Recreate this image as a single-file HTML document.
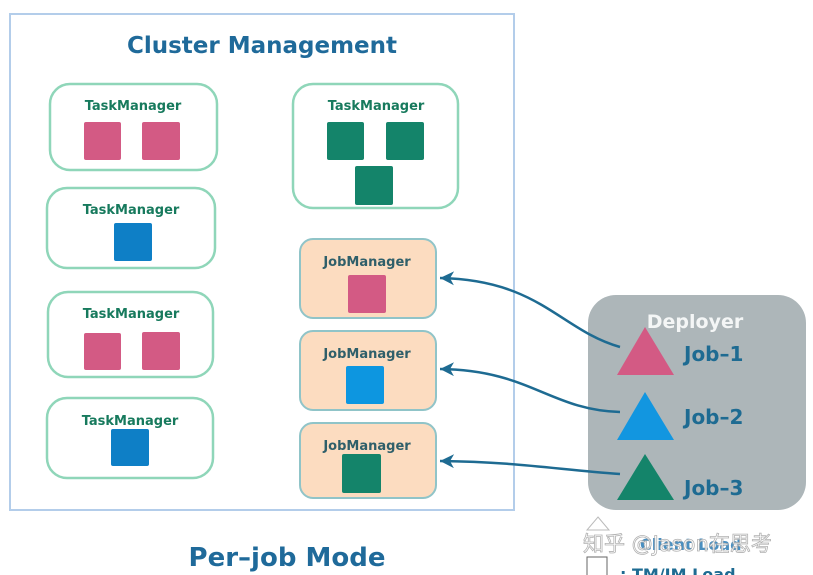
<!DOCTYPE html>
<html><head><meta charset="utf-8"><style>
html,body{margin:0;padding:0;background:#fff;width:813px;height:575px;overflow:hidden}
svg{display:block}
text{font-family:"DejaVu Sans","Liberation Sans","Noto Sans CJK SC",sans-serif}
</style></head><body>
<svg width="813" height="575" viewBox="0 0 813 575" xmlns="http://www.w3.org/2000/svg">
<defs>
<marker id="ah" markerWidth="16" markerHeight="16" refX="14" refY="7" orient="auto" markerUnits="userSpaceOnUse">
<path d="M0,0 L14,7 L0,14 L4,7 Z" fill="#1e6b92"/>
</marker>
</defs>
<rect x="10" y="14" width="504" height="496" fill="#fff" stroke="#b3cdea" stroke-width="2"/>
<text x="262" y="53" text-anchor="middle" font-size="23" font-weight="bold" fill="#1f6a9a">Cluster Management</text>

<g fill="#fff" stroke="#8fd6b9" stroke-width="2.5">
<rect x="50" y="84" width="167" height="86" rx="20"/>
<rect x="47" y="188" width="168" height="80" rx="20"/>
<rect x="48" y="292" width="165" height="85" rx="20"/>
<rect x="47" y="398" width="166" height="80" rx="20"/>
<rect x="293" y="84" width="165" height="124" rx="20"/>
</g>
<g fill="#fcdcc0" stroke="#90c4c8" stroke-width="2">
<rect x="300" y="239" width="136" height="79" rx="13"/>
<rect x="300" y="331" width="136" height="79" rx="13"/>
<rect x="300" y="423" width="136" height="75" rx="13"/>
</g>
<g font-size="13" font-weight="bold" fill="#177a5d" text-anchor="middle">
<text x="133" y="110">TaskManager</text>
<text x="131" y="214">TaskManager</text>
<text x="131" y="318">TaskManager</text>
<text x="130" y="425">TaskManager</text>
<text x="376" y="110">TaskManager</text>
</g>
<g fill="#d35a84">
<rect x="84" y="122" width="37" height="38" rx="2"/>
<rect x="142" y="122" width="38" height="38" rx="2"/>
<rect x="84" y="333" width="37" height="37" rx="2"/>
<rect x="142" y="332" width="38" height="38" rx="2"/>
<rect x="348" y="275" width="38" height="38" rx="2"/>
</g>
<g fill="#0e7fc6">
<rect x="114" y="223" width="38" height="38" rx="2"/>
<rect x="111" y="429" width="38" height="37" rx="2"/>
</g>
<g fill="#14846a">
<rect x="327" y="122" width="37" height="38" rx="2"/>
<rect x="386" y="122" width="38" height="38" rx="2"/>
<rect x="355" y="166" width="38" height="39" rx="2"/>
</g>
<g font-size="13" font-weight="bold" fill="#2f5f6a" text-anchor="middle">
<text x="367" y="266">JobManager</text>
<text x="367" y="358">JobManager</text>
<text x="367" y="450">JobManager</text>
</g>
<rect x="346" y="366" width="38" height="38" rx="2" fill="#0d96e0"/>
<rect x="342" y="454" width="39" height="39" rx="2" fill="#14846a"/>

<rect x="588" y="295" width="218" height="215" rx="28" fill="#adb6b9"/>
<text x="695" y="328" text-anchor="middle" font-size="19" font-weight="bold" fill="#f4f6f6">Deployer</text>
<polygon points="645,327 674,375 617,375" fill="#d35a84"/>
<polygon points="645,392 674,440 617,440" fill="#1296e0"/>
<polygon points="645,454 674,500 617,500" fill="#14846a"/>
<g font-size="20" font-weight="bold" fill="#1e6b92">
<text x="684" y="361">Job–1</text>
<text x="684" y="424">Job–2</text>
<text x="684" y="495">Job–3</text>
</g>

<g fill="none" stroke="#1e6b92" stroke-width="2.5">
<path d="M620,347 C560,330 540,280 440,278" marker-end="url(#ah)"/>
<path d="M620,412 C550,410 530,370 440,369" marker-end="url(#ah)"/>
<path d="M620,474 C560,470 520,462 440,461" marker-end="url(#ah)"/>
</g>

<text x="287" y="566" text-anchor="middle" font-size="26" font-weight="bold" fill="#1f6a9a">Per–job Mode</text>

<polygon points="598,517 609,530 587,530" fill="none" stroke="#bbb" stroke-width="1"/>
<rect x="587" y="557" width="20" height="20" fill="none" stroke="#666" stroke-width="1"/>
<text x="640" y="550" font-size="16" font-weight="bold" fill="#4a8fc0">Client Load</text>
<text x="620" y="580" font-size="16" font-weight="bold" fill="#1e6b92">: TM/JM Load</text>
<text x="583" y="551" font-size="21" fill="#fff" stroke="#aaa" stroke-width="0.8" opacity="0.9">知乎 @Jason在思考</text>
</svg>
</body></html>
